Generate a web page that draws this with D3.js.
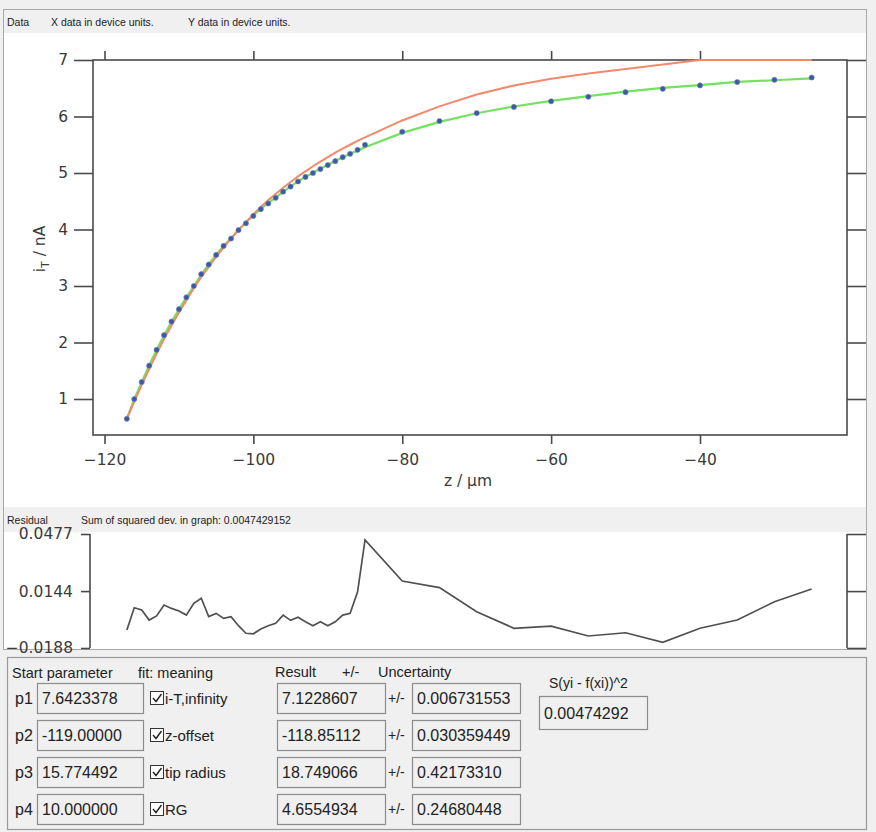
<!DOCTYPE html>
<html><head><meta charset="utf-8">
<script src="https://cdn.jsdelivr.net/npm/d3@7"></script>
<style>
html,body{margin:0;padding:0;background:#f0f0f0;}
svg{display:block;}
</style></head>
<body>
<svg id="c" width="876" height="832"></svg>
<script>
// ---------- DATA ----------
const zData = [-117,-116,-115,-114,-113,-112,-111,-110,-109,-108,-107,-106,-105,-104,-103,-102,-101,-100,-99,-98,-97,-96,-95,-94,-93,-92,-91,-90,-89,-88,-87,-86,-85,-80,-75,-70,-65,-60,-55,-50,-45,-40,-35,-30,-25];
const iData = [0.65,1.00,1.30,1.59,1.87,2.13,2.37,2.59,2.80,3.00,3.21,3.38,3.55,3.71,3.84,3.99,4.11,4.24,4.36,4.46,4.56,4.67,4.76,4.85,4.93,5.00,5.07,5.14,5.21,5.28,5.34,5.41,5.50,5.73,5.92,6.06,6.17,6.27,6.35,6.43,6.49,6.55,6.61,6.65,6.69];
const iFit = [0.658,0.995,1.297,1.593,1.870,2.124,2.366,2.587,2.800,2.993,3.200,3.381,3.549,3.712,3.841,3.996,4.120,4.251,4.368,4.466,4.564,4.670,4.763,4.851,4.934,5.006,5.074,5.146,5.214,5.280,5.339,5.396,5.456,5.710,5.904,6.058,6.177,6.276,6.362,6.440,6.506,6.557,6.613,6.642,6.674];
const iStart = [0.65,0.95,1.25,1.53,1.80,2.06,2.30,2.53,2.75,2.96,3.16,3.34,3.52,3.68,3.84,3.99,4.13,4.27,4.40,4.52,4.63,4.74,4.84,4.94,5.03,5.12,5.20,5.28,5.36,5.43,5.50,5.57,5.63,5.93,6.18,6.39,6.55,6.67,6.76,6.84,6.92,7.00,7.00,7.00,7.00];
const residual = [-0.0083,0.0047,0.0034,-0.0025,-0.0001,0.0063,0.0043,0.0028,0.0004,0.0073,0.0102,-0.0005,0.0014,-0.0015,-0.0005,-0.0058,-0.0102,-0.0105,-0.0077,-0.0058,-0.0044,0.0004,-0.0027,-0.0009,-0.0035,-0.0058,-0.0035,-0.0058,-0.0035,0.0004,0.0014,0.0140,0.0442,0.0203,0.0164,0.0024,-0.0073,-0.0060,-0.0118,-0.0099,-0.0155,-0.0073,-0.0025,0.0082,0.0156];
const xTicks = [-120,-100,-80,-60,-40];
const yTicks = [1,2,3,4,5,6,7];
const resTicks = [0.0477,0.0144,-0.0188];
const resTickLabels = ["0.0477","0.0144","\u22120.0188"];
const paramNames = ["p1","p2","p3","p4"];
const startParams = ["7.6423378","-119.00000","15.774492","10.000000"];
const meanings = ["i-T,infinity","z-offset","tip radius","RG"];
const results = ["7.1228607","-118.85112","18.749066","4.6554934"];
const uncertainties = ["0.006731553","0.030359449","0.42173310","0.24680448"];
const sumSq = "0.00474292";
const sumSqGraph = "0.0047429152";

// ---------- SETUP ----------
const svg = d3.select("#c");
const guiFont = "'Liberation Sans', Arial, sans-serif";
const axFont = "'DejaVu Sans', sans-serif";
const axColor = "#4a4a4a";

// outer window panel
svg.append("rect").attr("x",3.5).attr("y",9.5).attr("width",863).attr("height",640)
  .attr("fill","#fff").attr("stroke","#a8a8a8");
svg.append("rect").attr("x",4).attr("y",10).attr("width",862).attr("height",23).attr("fill","#f0f0f0");
svg.append("rect").attr("x",4).attr("y",507).attr("width",862).attr("height",25).attr("fill","#f0f0f0");

const hdr = svg.append("g").attr("font-family",guiFont).attr("font-size",10.5).attr("fill","#222");
hdr.append("text").attr("x",7).attr("y",26).text("Data");
hdr.append("text").attr("x",51).attr("y",26).text("X data in device units.");
hdr.append("text").attr("x",188).attr("y",26).text("Y data in device units.");
hdr.append("text").attr("x",7).attr("y",524).text("Residual");
hdr.append("text").attr("x",81).attr("y",524).text("Sum of squared dev. in graph:  " + sumSqGraph);

// ---------- MAIN PLOT ----------
const L = 93, R = 847, T = 60, B = 435;
const x = d3.scaleLinear().domain([-120,-40]).range([104.5,700]);
const y = d3.scaleLinear().domain([1,7]).range([399,60]);

function styleAxis(g){
  g.select(".domain").remove();
  g.selectAll("line").attr("stroke",axColor).attr("stroke-width",1.6);
  g.selectAll("text").attr("font-family",axFont).attr("font-size",15.5).attr("fill","#3a3a3a");
}
svg.append("g").attr("transform",`translate(${L},0)`)
  .call(d3.axisLeft(y).tickValues(yTicks).tickSize(19).tickPadding(6).tickFormat(d3.format("d"))).call(styleAxis);
svg.append("g").attr("transform",`translate(${R},0)`)
  .call(d3.axisRight(y).tickValues(yTicks).tickSize(19).tickFormat("")).call(styleAxis);
svg.append("g").attr("transform",`translate(0,${B})`)
  .call(d3.axisBottom(x).tickValues(xTicks).tickSize(9).tickPadding(10)).call(styleAxis);
svg.append("g").attr("transform",`translate(0,${T})`)
  .call(d3.axisTop(x).tickValues(xTicks).tickSize(9).tickFormat("")).call(styleAxis);
svg.append("rect").attr("x",L).attr("y",T).attr("width",R-L).attr("height",B-T)
  .attr("fill","none").attr("stroke",axColor).attr("stroke-width",1.6);

const idx = d3.range(zData.length);
const lineFit = d3.line().x(i=>x(zData[i])).y(i=>y(iFit[i]));
const lineStart = d3.line().x(i=>x(zData[i])).y(i=>y(iStart[i]));
svg.append("path").attr("d",lineFit(idx)).attr("fill","none").attr("stroke","#72e35c").attr("stroke-width",2.2);
svg.append("path").attr("d",lineStart(idx)).attr("fill","none").attr("stroke","#f2896a").attr("stroke-width",2);
svg.append("g").selectAll("circle").data(idx).join("circle")
  .attr("cx",i=>x(zData[i])).attr("cy",i=>y(iData[i])).attr("r",2.6)
  .attr("fill","#3d5aa0").attr("stroke","#6f86c0").attr("stroke-width",0.6);

// axis titles
const xt = svg.append("text").attr("x",468).attr("y",486).attr("text-anchor","middle")
  .attr("font-family",axFont).attr("font-size",15.5).attr("fill","#3a3a3a");
xt.text("z / \u00b5m");
const yt = svg.append("text").attr("transform","translate(45,249) rotate(-90)").attr("text-anchor","middle")
  .attr("font-family",axFont).attr("font-size",15.5).attr("fill","#3a3a3a");
yt.append("tspan").text("i");
yt.append("tspan").attr("font-size",11).attr("dy",4).text("T");
yt.append("tspan").attr("dy",-4).text(" / nA");

// ---------- RESIDUAL ----------
const rL = 90, rR = 847;
const yr = d3.scaleLinear().domain([-0.0188,0.0477]).range([648,534]);
svg.append("g").attr("transform",`translate(${rL},0)`)
  .call(d3.axisLeft(yr).tickValues(resTicks).tickSize(9).tickPadding(8).tickFormat((d,i)=>resTickLabels[i]))
  .call(styleAxis);
svg.append("line").attr("x1",rL).attr("x2",rL).attr("y1",yr(0.0477)).attr("y2",yr(-0.0188))
  .attr("stroke",axColor).attr("stroke-width",1.6);
svg.append("g").attr("transform",`translate(${rR},0)`)
  .call(d3.axisRight(yr).tickValues(resTicks).tickSize(19).tickFormat("")).call(styleAxis);
svg.append("line").attr("x1",rR).attr("x2",rR).attr("y1",yr(0.0477)).attr("y2",yr(-0.0188))
  .attr("stroke",axColor).attr("stroke-width",1.6);
const lineRes = d3.line().x(i=>x(zData[i])).y(i=>yr(residual[i]));
svg.append("path").attr("d",lineRes(idx)).attr("fill","none").attr("stroke","#505050").attr("stroke-width",1.7);

// ---------- PARAMETER PANEL ----------
svg.append("rect").attr("x",7.5).attr("y",657.5).attr("width",859).attr("height",172)
  .attr("fill","#f0f0f0").attr("stroke","#9a9a9a").attr("stroke-width",1.2);
const pp = svg.append("g").attr("font-family",guiFont).attr("fill","#222");
const h = pp.append("g").attr("font-size",14.5);
h.append("text").attr("x",12).attr("y",678).text("Start parameter");
h.append("text").attr("x",138).attr("y",678).text("fit:  meaning");
h.append("text").attr("x",275).attr("y",677).text("Result");
h.append("text").attr("x",342).attr("y",677).text("+/-");
h.append("text").attr("x",378).attr("y",677).text("Uncertainty");

const rowTop = [683,720,757,794];
const boxH = 30;
function box(g, bx, by, bw, bh, txt){
  g.append("rect").attr("x",bx+0.5).attr("y",by+0.5).attr("width",bw).attr("height",bh)
    .attr("fill","#f0f0f0").attr("stroke","#8c8c8c").attr("stroke-width",1.2);
  g.append("text").attr("x",bx+5).attr("y",by+bh/2+6).attr("font-size",16).text(txt);
}
paramNames.forEach((p,i)=>{
  const ry = rowTop[i];
  pp.append("text").attr("x",15).attr("y",ry+boxH/2+6).attr("font-size",16).text(p);
  box(pp,37,ry,106,boxH,startParams[i]);
  // checkbox
  pp.append("rect").attr("x",150.5).attr("y",ry+8.5).attr("width",13).attr("height",13)
    .attr("fill","#fff").attr("stroke","#333").attr("stroke-width",1);
  pp.append("path").attr("d",`M${153},${ry+15} L${156},${ry+18.5} L${161.5},${ry+11}`)
    .attr("fill","none").attr("stroke","#222").attr("stroke-width",1.4);
  pp.append("text").attr("x",165).attr("y",ry+boxH/2+6).attr("font-size",15).text(meanings[i]);
  box(pp,277,ry,108,boxH,results[i]);
  pp.append("text").attr("x",388).attr("y",ry+boxH/2+5).attr("font-size",14).text("+/-");
  box(pp,412,ry,108,boxH,uncertainties[i]);
});
pp.append("text").attr("x",549).attr("y",688).attr("font-size",14).text("S(yi - f(xi))^2");
box(pp,539,696,108,33,sumSq);
</script>
</body></html>
